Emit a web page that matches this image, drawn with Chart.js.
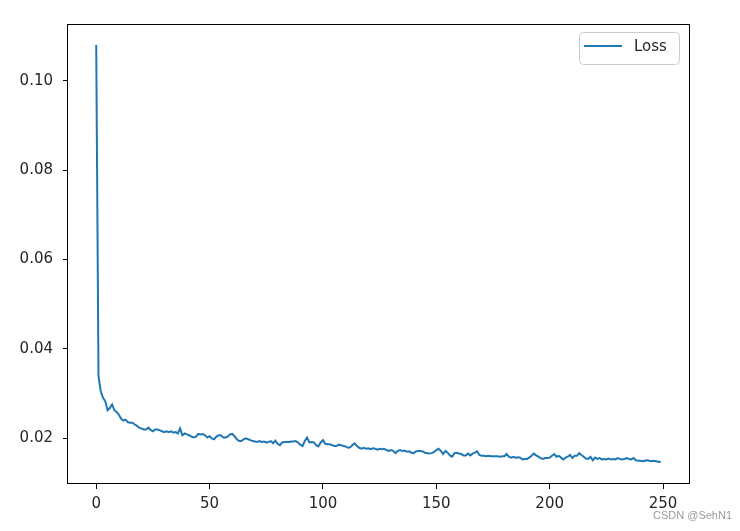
<!DOCTYPE html>
<html>
<head>
<meta charset="utf-8">
<script src="https://cdn.jsdelivr.net/npm/chart.js@4.4.1/dist/chart.umd.min.js"></script>
<style>
  body { margin: 0; background: #fff; }
  #wrap { position: relative; width: 740px; height: 531px; }
  #mark { position: absolute; left: 653px; top: 509px; font: 11px "Liberation Sans", Arial, sans-serif; color: #9a9a9a; white-space: nowrap; }
</style>
</head>
<body>
<div id="wrap">
  <canvas id="myChart" width="740" height="531"></canvas>
  <div id="mark">CSDN @SehN1</div>
</div>
<script>
// loss per epoch
const loss = [
  0.1080, 0.0340, 0.0305, 0.0291, 0.0283, 0.0263, 0.0268, 0.0276, 0.0263, 0.0259,
  0.0253, 0.0244, 0.0240, 0.0242, 0.0236, 0.0235, 0.0235, 0.0231, 0.0228, 0.0224,
  0.0222, 0.0220, 0.0220, 0.0224, 0.0219, 0.0216, 0.0220, 0.0220, 0.0218, 0.0216,
  0.0214, 0.0216, 0.0214, 0.0216, 0.0213, 0.0214, 0.0211, 0.0222, 0.0207, 0.0211,
  0.0209, 0.0207, 0.0204, 0.0202, 0.0204, 0.0210, 0.0209, 0.0210, 0.0207, 0.0202,
  0.0205, 0.0200, 0.0198, 0.0204, 0.0207, 0.0207, 0.0202, 0.0202, 0.0204, 0.0209,
  0.0210, 0.0205, 0.0198, 0.0194, 0.0194, 0.0198, 0.0200, 0.0198, 0.0196, 0.0194,
  0.0193, 0.0192, 0.0194, 0.0192, 0.0193, 0.0191, 0.0192, 0.0194, 0.0189, 0.0195,
  0.0188, 0.0185, 0.0191, 0.0192, 0.0192, 0.0192, 0.0193, 0.0193, 0.0194, 0.0191,
  0.0186, 0.0183, 0.0194, 0.0202, 0.0191, 0.0192, 0.0191, 0.0185, 0.0182, 0.0191,
  0.0196, 0.0188, 0.0187, 0.0187, 0.0185, 0.0183, 0.0183, 0.0186, 0.0185, 0.0183,
  0.0182, 0.0179, 0.0180, 0.0185, 0.0189, 0.0183, 0.0179, 0.0177, 0.0179, 0.0177,
  0.0178, 0.0176, 0.0178, 0.0177, 0.0175, 0.0177, 0.0176, 0.0177, 0.0174, 0.0172,
  0.0174, 0.0172, 0.0167, 0.0172, 0.0174, 0.0172, 0.0173, 0.0170, 0.0171, 0.0168,
  0.0167, 0.0171, 0.0172, 0.0172, 0.0171, 0.0168, 0.0167, 0.0166, 0.0167, 0.0170,
  0.0174, 0.0177, 0.0172, 0.0165, 0.0172, 0.0168, 0.0162, 0.0159, 0.0167, 0.0168,
  0.0166, 0.0165, 0.0162, 0.0162, 0.0166, 0.0162, 0.0166, 0.0168, 0.0171, 0.0163,
  0.0161, 0.0161, 0.0160, 0.0161, 0.0160, 0.0160, 0.0160, 0.0160, 0.0159, 0.0160,
  0.0160, 0.0165, 0.0159, 0.0157, 0.0159, 0.0157, 0.0158, 0.0157, 0.0153, 0.0154,
  0.0154, 0.0157, 0.0161, 0.0166, 0.0162, 0.0159, 0.0156, 0.0154, 0.0156, 0.0156,
  0.0157, 0.0161, 0.0165, 0.0159, 0.0161, 0.0157, 0.0153, 0.0157, 0.0159, 0.0163,
  0.0156, 0.0161, 0.0161, 0.0167, 0.0163, 0.0159, 0.0155, 0.0154, 0.0159, 0.0151,
  0.0157, 0.0154, 0.0156, 0.0153, 0.0154, 0.0153, 0.0155, 0.0153, 0.0154, 0.0153,
  0.0156, 0.0154, 0.0153, 0.0154, 0.0156, 0.0154, 0.0153, 0.0156, 0.0151, 0.0150,
  0.0150, 0.0149, 0.0150, 0.0151, 0.0150, 0.0149, 0.0150, 0.0149, 0.0148, 0.0147
];
const xTicks = [0, 50, 100, 150, 200, 250];
const yTicks = [0.02, 0.04, 0.06, 0.08, 0.10];
const seriesName = 'Loss';

const lineColor = '#1f77b4';
const textColor = '#262626';
const tickFont = { family: 'DejaVu Sans', size: 15 };

// matplotlib-like frame + legend inside the axes
const framePlugin = {
  id: 'frame',
  afterDatasetsDraw(chart) {
    const { ctx, chartArea: a } = chart;
    ctx.save();
    ctx.strokeStyle = '#000';
    ctx.lineWidth = 1;
    ctx.strokeRect(Math.round(a.left) - 0.5, Math.round(a.top) + 0.5,
      Math.round(a.right - a.left) + 1, Math.round(a.bottom - a.top) - 1);

    // legend box
    const bx = 579.5, by = 32.5, bw = 100, bh = 32, r = 4;
    ctx.beginPath();
    ctx.roundRect(bx, by, bw, bh, r);
    ctx.fillStyle = 'rgba(255,255,255,0.8)';
    ctx.fill();
    ctx.strokeStyle = '#cccccc';
    ctx.stroke();

    ctx.beginPath();
    ctx.moveTo(584, 46);
    ctx.lineTo(622, 46);
    ctx.strokeStyle = lineColor;
    ctx.lineWidth = 2;
    ctx.stroke();

    ctx.fillStyle = textColor;
    ctx.font = '15px "DejaVu Sans"';
    ctx.textBaseline = 'middle';
    ctx.fillText(seriesName, 634, 47);
    ctx.restore();
  }
};

const ctx = document.getElementById('myChart');

new Chart(ctx, {
  type: 'line',
  data: {
    datasets: [{
      label: seriesName,
      data: loss.map((v, i) => ({ x: i, y: v })),
      borderColor: lineColor,
      borderWidth: 2,
      pointRadius: 0,
      tension: 0,
      fill: false
    }]
  },
  options: {
    responsive: false,
    animation: false,
    layout: { padding: { top: 24, right: 51, bottom: 0, left: 0 } },
    plugins: {
      legend: { display: false },
      tooltip: { enabled: false }
    },
    scales: {
      x: {
        type: 'linear',
        min: -12.45,
        max: 261.45,
        afterBuildTicks: (s) => { s.ticks = xTicks.map(v => ({ value: v })); },
        afterFit: (s) => { s.height = 47; },
        border: { display: false },
        grid: { drawOnChartArea: false, tickLength: 5, tickColor: '#000', tickWidth: 1 },
        ticks: {
          padding: 6,
          color: textColor,
          font: tickFont,
          maxRotation: 0,
          callback: (v) => String(v)
        }
      },
      y: {
        type: 'linear',
        min: 0.0098,
        max: 0.1127,
        afterBuildTicks: (s) => { s.ticks = yTicks.map(v => ({ value: v })); },
        afterFit: (s) => { s.width = 68; },
        border: { display: false },
        grid: { drawOnChartArea: false, tickLength: 5, tickColor: '#000', tickWidth: 1 },
        ticks: {
          padding: 10,
          color: textColor,
          font: tickFont,
          callback: (v) => v.toFixed(2)
        }
      }
    }
  },
  plugins: [framePlugin]
});
</script>
</body>
</html>
